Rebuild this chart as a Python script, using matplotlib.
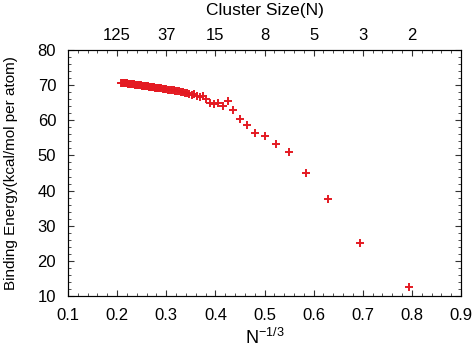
import matplotlib
matplotlib.use("Agg")
import matplotlib.pyplot as plt
import numpy as np
from matplotlib.ticker import MultipleLocator, FixedLocator

plt.rcParams['font.family'] = ['Liberation Sans', 'DejaVu Sans']
plt.rcParams['mathtext.fontset'] = 'custom'
plt.rcParams['mathtext.rm'] = 'Liberation Sans'
plt.rcParams['mathtext.it'] = 'Liberation Sans'
plt.rcParams['mathtext.default'] = 'regular'

# Cluster sizes and binding energies (kcal/mol per atom)
cluster_size = list(range(2, 111))
binding_energy = [
    12.5, 25.0, 37.5, 45.1, 51.0, 53.2, 55.4, 56.3, 58.7,            # N = 2..10
    60.4, 62.9, 65.6, 64.0, 64.9, 64.7, 64.8, 66.1, 67.0, 66.6,      # N = 11..20
    66.9, 67.4, 67.3, 67.6, 67.7, 67.9, 68.0, 68.0, 68.2, 68.3,      # N = 21..30
    68.45, 68.50, 68.62, 68.64, 68.75, 68.76, 68.86, 68.87, 68.96, 68.98,
    69.06, 69.07, 69.16, 69.17, 69.24, 69.26, 69.33, 69.34, 69.40, 69.42,
    69.48, 69.50, 69.55, 69.56, 69.62, 69.63, 69.68, 69.69, 69.74, 69.75,
    69.80, 69.81, 69.86, 69.86, 69.91, 69.92, 69.96, 69.97, 70.02, 70.02,
    70.06, 70.06, 70.11, 70.11, 70.15, 70.15, 70.19, 70.19, 70.23, 70.23,
    70.26, 70.27, 70.29, 70.31, 70.33, 70.35, 70.37, 70.39, 70.41, 70.42,
    70.44, 70.46, 70.47, 70.49, 70.50, 70.52, 70.54, 70.55, 70.57, 70.58,
    70.60, 70.61, 70.63, 70.64, 70.65, 70.67, 70.68, 70.69, 70.71, 70.72,
]

# Top-axis labels: cluster sizes at the N^(-1/3) positions 0.2 ... 0.8
top_tick_pos = [0.2, 0.3, 0.4, 0.5, 0.6, 0.7, 0.8]
top_tick_labels = ['125', '37', '15', '8', '5', '3', '2']

x = np.array(cluster_size, dtype=float) ** (-1.0 / 3.0)
y = np.array(binding_energy)

fig = plt.figure(figsize=(4.74, 3.48), dpi=100)
ax = fig.add_axes([0.1435, 0.1494, 0.8291, 0.7069])

ax.plot(x, y, linestyle='none', marker='+', color='#e41a22',
        markersize=5.2, markeredgewidth=1.4)

ax.set_xlim(0.1, 0.9)
ax.set_ylim(10, 80)
ax.xaxis.set_major_locator(MultipleLocator(0.1))
ax.xaxis.set_minor_locator(MultipleLocator(0.02))
ax.yaxis.set_major_locator(MultipleLocator(10))
ax.yaxis.set_minor_locator(MultipleLocator(2))
ax.set_xticklabels([f'{v:.1f}' for v in ax.get_xticks()])
ax.tick_params(which='both', direction='in', right=True, labelsize=12, color='#333333')
ax.tick_params(which='major', length=4, width=0.8, pad=8.5)
ax.tick_params(which='minor', length=2, width=0.6)
for s in ax.spines.values():
    s.set_linewidth(0.8)
    s.set_color('#333333')

ax.set_xlabel('N$^{-1/3}$', fontsize=13, labelpad=3.5)
ax.set_ylabel('Binding Energy(kcal/mol per atom)', fontsize=11, labelpad=14)

top = ax.twiny()
top.set_xlim(ax.get_xlim())
top.xaxis.set_major_locator(FixedLocator(top_tick_pos))
top.xaxis.set_minor_locator(MultipleLocator(0.02))
top.set_xticklabels(top_tick_labels)
top.tick_params(which='both', direction='in', labelsize=12, color='#333333')
top.tick_params(which='major', length=4, width=0.8, pad=5)
top.tick_params(which='minor', length=2, width=0.6)
top.set_xlabel('Cluster Size(N)', fontsize=12.5, labelpad=9.5)

fig.savefig('out.png', dpi=100)
